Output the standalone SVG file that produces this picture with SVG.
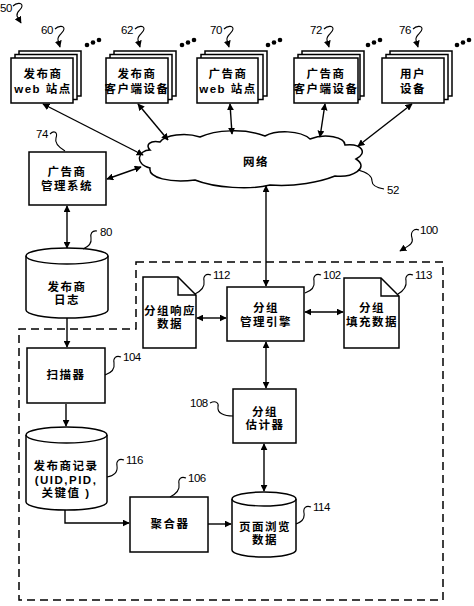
<svg xmlns="http://www.w3.org/2000/svg" width="474" height="606" viewBox="0 0 474 606">
<style>
.b{fill:#fff;stroke:#000;stroke-width:1.5}
.l{fill:none;stroke:#000;stroke-width:1.4}
.s{fill:none;stroke:#000;stroke-width:1.1}
.d{fill:none;stroke:#000;stroke-width:1.5;stroke-dasharray:8 5}
.t{font-family:"Liberation Sans","Noto Sans CJK SC",sans-serif;font-size:11.5px;font-weight:bold;text-anchor:middle;letter-spacing:1.5px}
.n{font-family:"Liberation Sans",Arial,sans-serif;font-size:11.5px;letter-spacing:-0.5px}
</style>
<defs>
<marker id="a" viewBox="0 0 10 10" refX="9" refY="5" markerWidth="7" markerHeight="7" markerUnits="userSpaceOnUse" orient="auto-start-reverse">
<path d="M0,0 L10,5 L0,10 z" fill="#000"/>
</marker>
<g id="stk">
<rect class="b" x="8" y="-7" width="62" height="45"/>
<rect class="b" x="4" y="-3.5" width="62" height="45"/>
</g>
</defs>

<!-- dashed region 100 -->
<path class="d" d="M136,262 L443,262 L443,600 L19,600 L19,329 L136,329 Z"/>

<!-- top nodes -->
<g id="n60">
<use href="#stk" x="11" y="58"/>
<rect class="b" x="11" y="58" width="62" height="45"/>
<text class="t" x="43" y="78">发布商</text>
<text class="t" x="43" y="93" letter-spacing="0">web 站点</text>
</g>
<g id="n62">
<use href="#stk" x="106" y="58"/>
<rect class="b" x="106" y="58" width="62" height="45"/>
<text class="t" x="137" y="78">发布商</text>
<text class="t" x="137" y="93" letter-spacing="0.5">客户端设备</text>
</g>
<g id="n70">
<use href="#stk" x="197" y="58"/>
<rect class="b" x="197" y="58" width="61" height="45"/>
<text class="t" x="228" y="78">广告商</text>
<text class="t" x="228" y="93" letter-spacing="0">web 站点</text>
</g>
<g id="n72">
<use href="#stk" x="294" y="58"/>
<rect class="b" x="294" y="58" width="64" height="45"/>
<text class="t" x="326" y="78">广告商</text>
<text class="t" x="326" y="93" letter-spacing="0.5">客户端设备</text>
</g>
<g id="n76">
<use href="#stk" x="382" y="58"/>
<rect class="b" x="382" y="58" width="62" height="45"/>
<text class="t" x="413" y="78">用户</text>
<text class="t" x="413" y="93">设备</text>
</g>

<!-- dots -->
<g fill="#000">
<circle cx="87" cy="45" r="2.3"/><circle cx="93" cy="42.5" r="2.3"/><circle cx="99" cy="40" r="2.3"/>
<circle cx="182" cy="45" r="2.3"/><circle cx="188" cy="42.5" r="2.3"/><circle cx="194" cy="40" r="2.3"/>
<circle cx="268" cy="45" r="2.3"/><circle cx="274" cy="42.5" r="2.3"/><circle cx="280" cy="40" r="2.3"/>
<circle cx="368" cy="45" r="2.3"/><circle cx="374" cy="42.5" r="2.3"/><circle cx="380" cy="40" r="2.3"/>
<circle cx="457" cy="45" r="2.3"/><circle cx="463" cy="42.5" r="2.3"/><circle cx="469" cy="40" r="2.3"/>
</g>

<!-- cloud 52 -->
<g id="n52">
<path class="b" d="M150,150 C138,150 134,164 150,168 C148,178 170,183 195,180 C215,188 250,190 270,185 C295,187 320,182 335,176 C352,178 370,168 356,159 C368,153 362,143 345,145 C345,137 325,133 310,139 C300,130 276,130 265,136 C245,128 215,130 200,137 C185,132 165,135 160,142 C150,140 145,145 150,150 Z"/>
<text class="t" x="256" y="166">网络</text>
</g>

<!-- 74 -->
<g id="n74">
<rect class="b" x="29" y="152" width="77" height="53"/>
<text class="t" x="67" y="176">广告商</text>
<text class="t" x="67" y="190">管理系统</text>
</g>

<!-- 80 cylinder -->
<g id="n80">
<path class="b" d="M26,256 L26,310 A41,8 0 0 0 108,310 L108,256 A41,8 0 0 0 26,256 Z"/>
<path class="l" d="M26,256 A41,8 0 0 0 108,256"/>
<text class="t" x="67" y="291">发布商</text>
<text class="t" x="67" y="304">日志</text>
</g>

<!-- 112 doc -->
<g id="n112">
<path class="b" d="M143,277 L178,277 L196,295 L196,348 L143,348 Z"/>
<path class="l" d="M178,277 L178,295 L196,295"/>
<text class="t" x="170" y="315">分组响应</text>
<text class="t" x="170" y="328">数据</text>
</g>

<!-- 102 -->
<g id="n102">
<rect class="b" x="227" y="287" width="77" height="54"/>
<text class="t" x="266" y="312">分组</text>
<text class="t" x="266" y="326">管理引擎</text>
</g>

<!-- 113 doc -->
<g id="n113">
<path class="b" d="M344,278 L381,278 L399,296 L399,348 L344,348 Z"/>
<path class="l" d="M381,278 L381,296 L399,296"/>
<text class="t" x="372" y="312">分组</text>
<text class="t" x="372" y="326">填充数据</text>
</g>

<!-- 104 -->
<g id="n104">
<rect class="b" x="27" y="348" width="78" height="55"/>
<text class="t" x="66" y="379">扫描器</text>
</g>

<!-- 108 -->
<g id="n108">
<rect class="b" x="233" y="389" width="63" height="54"/>
<text class="t" x="265" y="416">分组</text>
<text class="t" x="265" y="429">估计器</text>
</g>

<!-- 116 cylinder -->
<g id="n116">
<path class="b" d="M26,435 L26,502 A40.5,8 0 0 0 107,502 L107,435 A40.5,8 0 0 0 26,435 Z"/>
<path class="l" d="M26,435 A40.5,8 0 0 0 107,435"/>
<text class="t" x="66" y="470" letter-spacing="0.5">发布商记录</text>
<text class="t" x="66" y="484" letter-spacing="-0.3">(UID,PID,</text>
<text class="t" x="66" y="497">关键值 )</text>
</g>

<!-- 106 -->
<g id="n106">
<rect class="b" x="130" y="497" width="78" height="55"/>
<text class="t" x="170" y="528">聚合器</text>
</g>

<!-- 114 cylinder -->
<g id="n114">
<path class="b" d="M232,499 L232,550 A32,7 0 0 0 296,550 L296,499 A32,7 0 0 0 232,499 Z"/>
<path class="l" d="M232,499 A32,7 0 0 0 296,499"/>
<text class="t" x="265" y="531">页面浏览</text>
<text class="t" x="265" y="544">数据</text>
</g>

<!-- connectors -->
<g id="connectors">
<line class="l" x1="43" y1="104" x2="143" y2="155" marker-start="url(#a)" marker-end="url(#a)"/>
<line class="l" x1="138" y1="104" x2="168" y2="140" marker-start="url(#a)" marker-end="url(#a)"/>
<line class="l" x1="230" y1="104" x2="232" y2="134" marker-start="url(#a)" marker-end="url(#a)"/>
<line class="l" x1="325" y1="104" x2="320" y2="137" marker-start="url(#a)" marker-end="url(#a)"/>
<line class="l" x1="412" y1="104" x2="358" y2="146" marker-start="url(#a)" marker-end="url(#a)"/>
<line class="l" x1="107" y1="179" x2="141" y2="167" marker-start="url(#a)" marker-end="url(#a)"/>
<line class="l" x1="67" y1="206" x2="67" y2="248" marker-start="url(#a)" marker-end="url(#a)"/>
<line class="l" x1="266" y1="186" x2="266" y2="286" marker-start="url(#a)" marker-end="url(#a)"/>
<line class="l" x1="197" y1="318" x2="226" y2="318" marker-start="url(#a)" marker-end="url(#a)"/>
<line class="l" x1="305" y1="312" x2="343" y2="312" marker-start="url(#a)" marker-end="url(#a)"/>
<line class="l" x1="67" y1="318" x2="67" y2="347" marker-end="url(#a)"/>
<line class="l" x1="266" y1="342" x2="266" y2="388" marker-start="url(#a)" marker-end="url(#a)"/>
<line class="l" x1="66" y1="404" x2="66" y2="426" marker-end="url(#a)"/>
<path class="l" d="M65,510 L65,523 L129,523" marker-end="url(#a)"/>
<line class="l" x1="208" y1="524" x2="231" y2="524" marker-end="url(#a)"/>
<line class="l" x1="264" y1="444" x2="264" y2="491" marker-start="url(#a)" marker-end="url(#a)"/>
</g>

<!-- reference labels -->
<g id="labels">
<text class="n" x="0" y="12">50</text>
<path class="s" d="M13,6 C16,3 22,2 22,6 C22,10 16,11 17,16 L21,23" marker-end="url(#a)"/>
<text class="n" x="41" y="34">60</text>
<path class="s" d="M55,29 C58,26 64,25 64,29 C64,33 57,35 58,40 L60,47" marker-end="url(#a)"/>
<text class="n" x="121" y="34">62</text>
<path class="s" d="M135,29 C138,26 144,25 144,29 C144,33 137,35 138,40 L140,47" marker-end="url(#a)"/>
<text class="n" x="210" y="34">70</text>
<path class="s" d="M224,29 C227,26 233,25 233,29 C233,33 226,35 227,40 L229,47" marker-end="url(#a)"/>
<text class="n" x="310" y="34">72</text>
<path class="s" d="M324,29 C327,26 333,25 333,29 C333,33 326,35 327,40 L329,47" marker-end="url(#a)"/>
<text class="n" x="399" y="34">76</text>
<path class="s" d="M413,29 C416,26 422,25 422,29 C422,33 415,35 416,40 L418,47" marker-end="url(#a)"/>
<text class="n" x="36" y="138">74</text>
<path class="s" d="M50,134 C54,130 58,132 56,138 C54,144 60,148 65,151"/>
<text class="n" x="100" y="236">80</text>
<path class="s" d="M97,231 C92,230 90,234 91,238 C92,244 88,247 83,249"/>
<text class="n" x="387" y="194">52</text>
<path class="s" d="M358,170 C366,172 372,176 372,181 C372,186 378,188 384,189"/>
<text class="n" x="420" y="234">100</text>
<path class="s" d="M419,230 C414,228 410,232 412,238 C414,244 408,246 400,251" marker-end="url(#a)"/>
<text class="n" x="213" y="279">112</text>
<path class="s" d="M211,275 C206,273 203,276 204,281 C205,287 201,291 195,294"/>
<text class="n" x="323" y="279">102</text>
<path class="s" d="M321,275 C316,273 313,276 314,281 C315,287 311,291 305,293"/>
<text class="n" x="415" y="279">113</text>
<path class="s" d="M413,275 C408,273 405,276 406,281 C407,287 403,291 398,294"/>
<text class="n" x="123" y="361">104</text>
<path class="s" d="M121,357 C116,355 113,358 114,363 C115,369 111,373 105,375"/>
<text class="n" x="190" y="407">108</text>
<path class="s" d="M210,403 C216,400 219,403 218,407 C217,413 224,416 233,416"/>
<text class="n" x="126" y="464">116</text>
<path class="s" d="M124,460 C119,458 116,461 117,466 C118,472 114,476 107,477"/>
<text class="n" x="188" y="482">106</text>
<path class="s" d="M186,478 C181,476 178,479 179,484 C180,490 176,494 170,497"/>
<text class="n" x="313" y="511">114</text>
<path class="s" d="M311,507 C306,505 303,508 304,513 C305,519 302,522 296,524"/>
</g>
</svg>
